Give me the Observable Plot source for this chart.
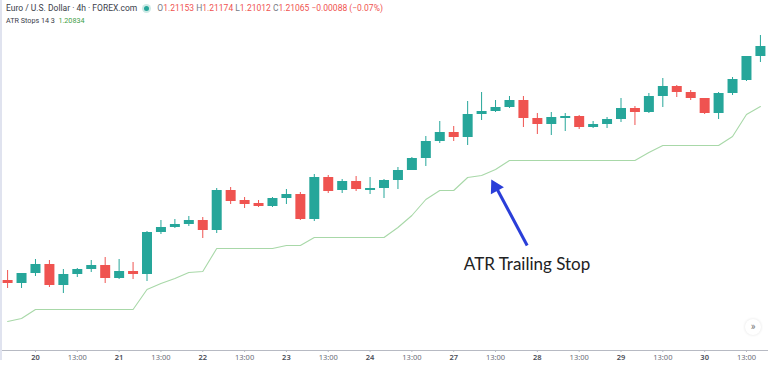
<!DOCTYPE html>
<html><head><meta charset="utf-8">
<script src="https://cdn.jsdelivr.net/npm/d3@7"></script>
<script src="https://cdn.jsdelivr.net/npm/@observablehq/plot@0.6"></script>
<style>
html,body{margin:0;padding:0;background:#fff;}
#wrap{position:relative;width:768px;height:365px;overflow:hidden;font-family:"Roboto","Noto Sans",sans-serif;}
#chart svg{display:block;}
#strip{position:absolute;left:0;top:0;width:2px;height:360px;background:#e0e3ef;}
#h1{position:absolute;left:6px;top:3px;font-size:8.5px;color:#3a3e4a;white-space:nowrap;}
#h2{position:absolute;left:6px;top:16px;font-size:7.2px;color:#3a3e4a;white-space:nowrap;}
.lab{color:#787b86;}
.red{color:#ef5350;}
.grn{color:#43a047;}
#dot{display:inline-block;width:5px;height:5px;border-radius:50%;background:#26a69a;box-shadow:0 0 0 2px #cdeae6;margin:0 8px 0 7px;vertical-align:0px;}
#icon{position:absolute;left:745px;top:319px;width:16px;height:16px;border-radius:50%;background:#fff;box-shadow:0 0 3px rgba(0,0,0,0.12);font-size:10px;color:#777;text-align:center;line-height:15px;}
</style>
</head><body>
<div id="wrap">
<div id="chart"></div>
<div id="strip"></div>
<div id="h1">Euro / U.S. Dollar · 4h · FOREX.com<span id="dot"></span><span class="lab">O</span><span class="red">1.21153</span> <span class="lab">H</span><span class="red">1.21174</span> <span class="lab">L</span><span class="red">1.21012</span> <span class="lab">C</span><span class="red">1.21065</span> <span class="red">−0.00088 (−0.07%)</span></div>
<div id="h2">ATR Stops 14 3&nbsp;&nbsp;<span class="grn">1.20834</span></div>
<div id="icon">»</div>
</div>
<script>
// 4h candles, EUR/USD
const opens  = [1.1910,1.1907,1.1917,1.1926,1.1905,1.1916,1.1921,1.1925,1.1912,1.1919,
                1.1916,1.1958,1.1963,1.1966,1.1970,1.1960,1.2000,1.1990,1.1987,1.1984,
                1.1992,1.1996,1.1971,1.2013,1.2000,1.2009,1.2000,1.2002,1.2010,1.2020,
                1.2032,1.2049,1.2058,1.2053,1.2076,1.2079,1.2083,1.2090,1.2072,1.2066,
                1.2072,1.2074,1.2063,1.2066,1.2071,1.2082,1.2078,1.2094,1.2104,1.2098,
                1.2092,1.2077,1.2097,1.2110,1.2134];
const highs  = [1.1920,1.1917,1.1931,1.1930,1.1921,1.1922,1.1930,1.1933,1.1931,1.1928,
                1.1959,1.1970,1.1971,1.1974,1.1973,1.2002,1.2003,1.1993,1.1990,1.1993,
                1.2001,1.1998,1.2016,1.2015,1.2011,1.2014,1.2013,1.2011,1.2023,1.2033,
                1.2054,1.2069,1.2064,1.2089,1.2098,1.2090,1.2094,1.2094,1.2077,1.2078,
                1.2077,1.2075,1.2069,1.2073,1.2092,1.2084,1.2097,1.2112,1.2105,1.2100,
                1.2092,1.2098,1.2113,1.2134,1.2155];
const lows   = [1.1902,1.1902,1.1914,1.1903,1.1897,1.1913,1.1918,1.1907,1.1911,1.1911,
                1.1909,1.1956,1.1962,1.1964,1.1952,1.1957,1.1986,1.1982,1.1983,1.1983,
                1.1986,1.1970,1.1969,1.1997,1.1997,1.1999,1.1996,1.1992,1.2001,1.2020,
                1.2024,1.2047,1.2049,1.2045,1.2070,1.2078,1.2082,1.2063,1.2056,1.2055,
                1.2059,1.2061,1.2062,1.2062,1.2068,1.2065,1.2077,1.2083,1.2093,1.2090,
                1.2076,1.2071,1.2095,1.2109,1.2128];
const closes = [1.1907,1.1917,1.1926,1.1905,1.1916,1.1921,1.1925,1.1912,1.1919,1.1916,
                1.1958,1.1963,1.1966,1.1970,1.1960,1.2000,1.1989,1.1986,1.1984,1.1992,
                1.1996,1.1971,1.2013,1.1999,1.2009,1.2001,1.2002,1.2010,1.2020,1.2032,
                1.2049,1.2058,1.2053,1.2076,1.2079,1.2083,1.2090,1.2072,1.2066,1.2073,
                1.2074,1.2063,1.2066,1.2071,1.2082,1.2078,1.2094,1.2104,1.2098,1.2092,
                1.2077,1.2097,1.2111,1.2134,1.2144];
// ATR Stops (14, 3)
const atrStop = [1.1869,1.1872,1.1881,1.1881,1.1881,1.1881,1.1881,1.1881,1.1881,1.1881,
                 1.1901,1.1907,1.1912,1.1918,1.1919,1.1942,1.1942,1.1942,1.1942,1.1942,
                 1.1945,1.1945,1.1953,1.1953,1.1953,1.1953,1.1953,1.1953,1.1963,1.1975,
                 1.1991,1.2000,1.2000,1.2013,1.2015,1.2021,1.2030,1.2030,1.2030,1.2030,
                 1.2030,1.2030,1.2030,1.2030,1.2030,1.2030,1.2038,1.2045,1.2045,1.2045,
                 1.2045,1.2045,1.2054,1.2076,1.2084];
// x-axis ticks (candle index) and labels
const dayTicks = [2,8,14,20,26,32,38,44,50];
const dayLabels = ["20","21","22","23","24","27","28","29","30"];
const midTicks = [5,11,17,23,29,35,41,47,53];
const midLabels = ["13:00","13:00","13:00","13:00","13:00","13:00","13:00","13:00","13:00"];
// annotation
const noteText = ["ATR Trailing Stop"];
const noteX = [37.26], noteY = [1.1926];
const arrowFrom = [37.27, 1.1945], arrowTo = [35.05, 1.2003], arrowTip = [34.88, 1.2007];

const candles = opens.map((o,i)=>({i, o, h:highs[i], l:lows[i], c:closes[i], up: closes[i]>=o}));
const stops = atrStop.map((v,i)=>({i, v}));
const GREEN = "#26a69a", RED = "#ef5350";
const col = d => d.up ? GREEN : RED;

const chart = Plot.plot({
  width: 768, height: 365,
  marginLeft: 0, marginRight: 0, marginTop: 0, marginBottom: 15,
  x: {domain: [-0.509, 54.58], axis: null, label: null},
  y: {domain: [1.1840, 1.2190], axis: null, label: null},
  style: {background: "transparent", overflow: "visible"},
  marks: [
    Plot.ruleY([1.1840], {stroke: "#b7bac3", strokeWidth: 1}),
    Plot.line(stops, {x: "i", y: "v", stroke: "#a8d8a8", strokeWidth: 1.1}),
    Plot.ruleX(candles, {x: "i", y1: "l", y2: "h", stroke: col, strokeWidth: 1}),
    Plot.ruleX(candles, {x: "i", y1: "o", y2: "c", stroke: col, strokeWidth: 10}),
    Plot.link([0], {x1: () => arrowFrom[0], y1: () => arrowFrom[1], x2: () => arrowTo[0], y2: () => arrowTo[1], stroke: "#2a3ed8", strokeWidth: 3}),
    Plot.dot([0], {x: () => arrowTip[0], y: () => arrowTip[1], symbol: "triangle", r: 5.5, fill: "#2a3ed8", rotate: -28.4, dx: 1.5, dy: 3.5}),
    Plot.text(noteText, {x: () => noteX[0], y: () => noteY[0], text: d => d, fontSize: 17, fill: "#222", fontFamily: "Lato"}),
    Plot.axisX(dayTicks, {label: null, tickFormat: (d) => dayLabels[dayTicks.indexOf(d)], tickSize: 2, tickPadding: 2, fontSize: 7.5, fill: "#4a4d58", stroke: "#b7bac3", fontWeight: 600}),
    Plot.axisX(midTicks, {label: null, tickFormat: (d) => midLabels[midTicks.indexOf(d)], tickSize: 2, tickPadding: 2, fontSize: 7.5, fill: "#6a6d78", stroke: "#b7bac3"})
  ]
});
document.getElementById("chart").appendChild(chart);
</script>
</body></html>
